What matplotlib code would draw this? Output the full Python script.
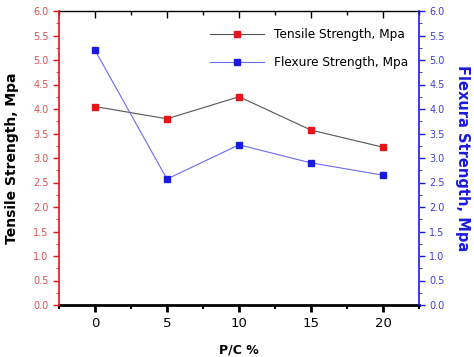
import matplotlib
matplotlib.use('Agg')
import matplotlib.pyplot as plt
from matplotlib.ticker import MultipleLocator

pc = [0, 5, 10, 15, 20]
tensile = [4.05, 3.80, 4.25, 3.57, 3.22]
flexure = [5.20, 2.57, 3.27, 2.90, 2.65]

red = '#e8141c'
blue = '#1a1ae0'

fig = plt.figure(figsize=(4.74, 3.57), dpi=100)
ax = fig.add_axes([59/474, 1-305/357, 360/474, 294/357])
ax2 = ax.twinx()

l1, = ax.plot(pc, tensile, color='#555555', lw=0.8, marker='s', ms=4,
              mfc=red, mec=red, label='Tensile Strength, Mpa')
l2, = ax2.plot(pc, flexure, color='#6b6bf0', lw=0.8, marker='s', ms=4,
               mfc=blue, mec=blue, label='Flexure Strength, Mpa')

ax.set_xlim(-2.5, 22.5)
ax.set_ylim(0, 6)
ax2.set_ylim(0, 6)
for a in (ax, ax2):
    a.yaxis.set_major_locator(MultipleLocator(0.5))
    a.yaxis.set_minor_locator(MultipleLocator(0.25))

ax.spines['left'].set_color(red)
ax.spines['left'].set_linewidth(1.2)
ax2.spines['left'].set_visible(False)
ax2.spines['right'].set_color(blue)
ax2.spines['right'].set_linewidth(1.2)
ax.spines['right'].set_visible(False)
ax.spines['top'].set_visible(False)
ax2.spines['top'].set_visible(False)
ax2.spines['bottom'].set_visible(False)
ax.spines['bottom'].set_visible(False)

ax.tick_params(axis='y', colors=red, labelcolor='#e05050', labelsize=7, length=4, width=1)
ax.tick_params(axis='y', which='minor', colors=red, length=2)
ax2.tick_params(axis='y', colors=blue, labelcolor='#4040d0', labelsize=7, length=4, width=1)
ax2.tick_params(axis='y', which='minor', colors=blue, length=2)
ax.tick_params(axis='x', which='both', bottom=False, top=False, labelbottom=False)

# bottom axis: thick spine, ticks pointing out
bot = ax.secondary_xaxis('bottom')
bot.set_xticks(pc)
bot.xaxis.set_minor_locator(MultipleLocator(2.5))
bot.spines['bottom'].set_linewidth(2)
bot.tick_params(axis='x', which='major', direction='out', length=5, width=2,
                color='black', labelsize=9.5)
bot.tick_params(axis='x', which='minor', direction='out', length=3, width=1.5,
                color='black')
bot.set_xlabel('P/C %', fontsize=9, fontweight='bold', labelpad=10)

# top axis: thin spine, ticks pointing in
top = ax.secondary_xaxis('top')
top.set_xticks(pc)
top.xaxis.set_minor_locator(MultipleLocator(2.5))
top.tick_params(axis='x', which='both', direction='in', width=1, labeltop=False)
top.tick_params(axis='x', which='major', length=5)
top.tick_params(axis='x', which='minor', length=3)
top.spines['top'].set_linewidth(1)

ax.set_ylabel('Tensile Strength, Mpa', fontsize=10, fontweight='bold', labelpad=10)
ax2.set_ylabel('Flexura Strength, Mpa', fontsize=10.5, fontweight='bold', color=blue,
               rotation=270, labelpad=18)

ax.legend(handles=[l1, l2], loc='upper right', frameon=False, fontsize=8.7,
          bbox_to_anchor=(1.0, 0.98), handlelength=4.5, labelspacing=1.3)

fig.savefig('out.png', dpi=100)
